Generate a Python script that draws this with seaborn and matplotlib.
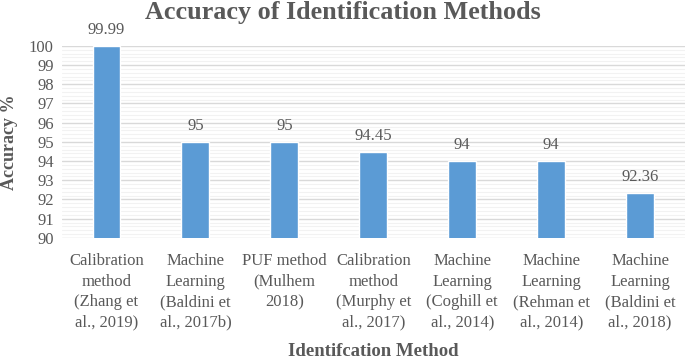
import pandas as pd
import matplotlib
matplotlib.use('Agg')
import matplotlib.pyplot as plt
import seaborn as sns
from matplotlib.ticker import MultipleLocator

# data
methods = ['Calibration\nmethod\n(Zhang et\nal., 2019)',
           'Machine\nLearning\n(Baldini et\nal., 2017b)',
           'PUF method\n(Mulhem\n2018)',
           'Calibration\nmethod\n(Murphy et\nal., 2017)',
           'Machine\nLearning\n(Coghill et\nal., 2014)',
           'Machine\nLearning\n(Rehman et\nal., 2014)',
           'Machine\nLearning\n(Baldini et\nal., 2018)']
accuracy = [99.99, 95, 95, 94.45, 94, 94, 92.36]
value_labels = ['99.99', '95', '95', '94.45', '94', '94', '92.36']

df = pd.DataFrame({'method': methods, 'accuracy': accuracy})

sns.set_style('white')
plt.rcParams['font.family'] = ['Liberation Serif', 'DejaVu Serif']
text_col = '#595959'

fig = plt.figure(figsize=(6.85, 3.61), dpi=100)
ax = fig.add_axes([0.0905, 0.341, 0.909, 0.532])

sns.barplot(data=df, x='method', y='accuracy', color='#5B9BD5', saturation=1,
            width=0.314, ax=ax, zorder=3)

ax.set_ylim(90, 100)
ax.yaxis.set_major_locator(MultipleLocator(1))
ax.yaxis.set_minor_locator(MultipleLocator(0.2))
ax.grid(which='major', axis='y', color='#d9d9d9', linewidth=1, zorder=0)
ax.grid(which='minor', axis='y', color='#f2f2f2', linewidth=0.8, zorder=0)
ax.set_axisbelow(True)
for s in ax.spines.values():
    s.set_visible(False)

ax.tick_params(axis='both', length=0, labelsize=12, colors=text_col)
ax.tick_params(axis='x', pad=11)
ax.tick_params(axis='y', pad=6)
for lbl in ax.get_xticklabels():
    lbl.set_linespacing(1.38)

# value labels above the bars
for i, (v, t) in enumerate(zip(accuracy, value_labels)):
    ax.text(i, v + 0.42, t, ha='center', va='bottom', fontsize=12, color=text_col)

ax.set_xlabel('Identifcation Method', fontsize=13.5, fontweight='bold', color=text_col, va='center')
ax.xaxis.set_label_coords(0.5, -0.59)
ax.set_ylabel('Accuracy %', fontsize=13, fontweight='bold', color=text_col, va='center')
ax.yaxis.set_label_coords(-0.084, 0.5)
fig.text(0.5, 0.964, 'Accuracy of Identification Methods', ha='center', va='center',
         fontsize=18.8, fontweight='bold', color=text_col)

plt.savefig('out.png', dpi=100)
